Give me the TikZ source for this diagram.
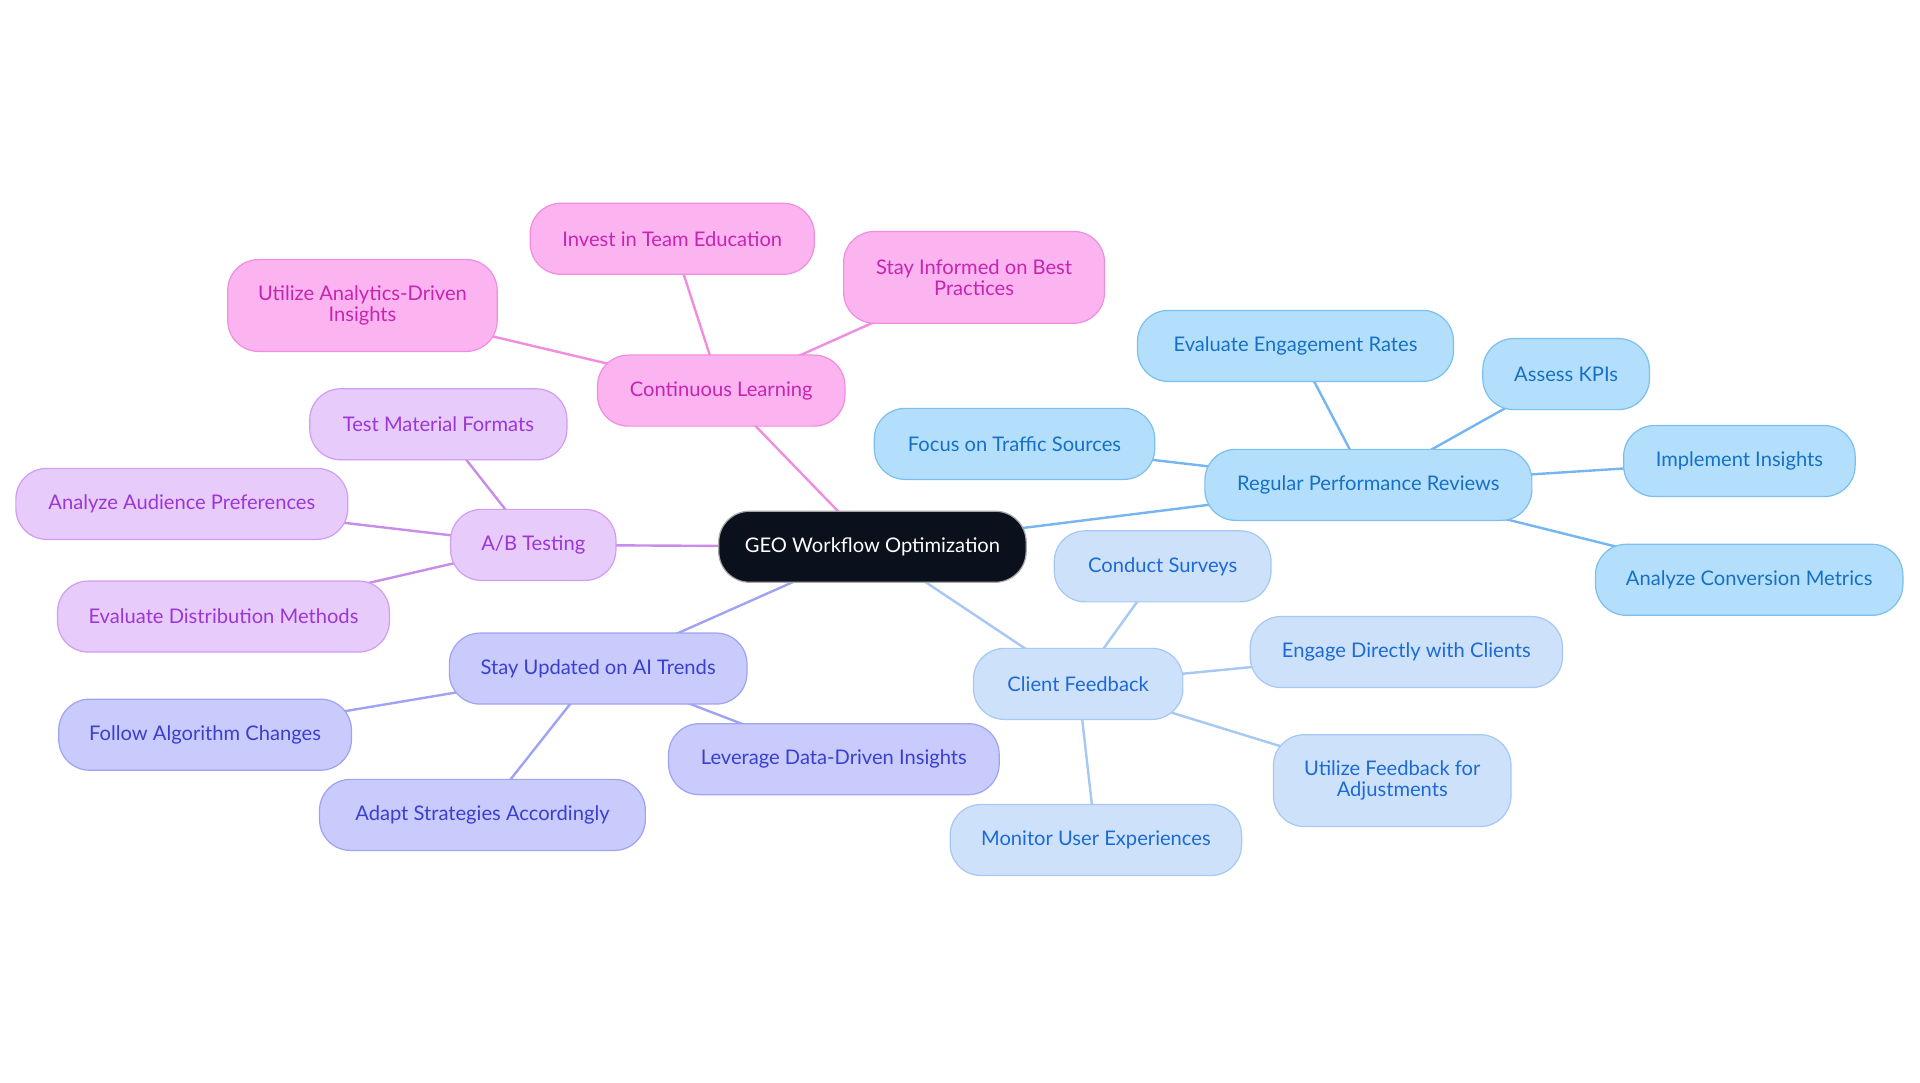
\documentclass[tikz,border=0pt]{standalone}
\usepackage{fontspec}
\setmainfont{Lato}
\usepackage{tikz}
\usetikzlibrary{backgrounds}

\definecolor{hubC}{HTML}{0B111C}
\definecolor{learnF}{HTML}{FBB4F0}
\definecolor{learnD}{HTML}{F08DDF}
\definecolor{learnT}{HTML}{C724B1}
\definecolor{abF}{HTML}{E7CBFB}
\definecolor{abD}{HTML}{D09DF5}
\definecolor{abT}{HTML}{9C36D6}
\definecolor{trendF}{HTML}{C8CBFB}
\definecolor{trendD}{HTML}{9FA3F3}
\definecolor{trendT}{HTML}{3B3FD0}
\definecolor{fbF}{HTML}{CDE2FA}
\definecolor{fbD}{HTML}{A6C8F2}
\definecolor{fbT}{HTML}{1C6AD4}
\definecolor{revF}{HTML}{B4DFFC}
\definecolor{revD}{HTML}{7BBFF0}
\definecolor{revT}{HTML}{1670C4}

\begin{document}
\begin{tikzpicture}[
            x=0.025cm, y=-0.025cm,
            pill/.style={
                    rectangle, rounded corners=0.63cm,
                    minimum height=1.45cm, inner sep=2pt,
                    align=center, line width=0.7pt,
                    font=\fontsize{11.7}{12.4}\selectfont
                },
            tall/.style={minimum height=1.875cm},
            hub/.style={pill, fill=hubC, draw=gray!70, text=white},
            learnbox/.style={pill, fill=learnF, draw=learnD, text=learnT},
            abbox/.style={pill, fill=abF, draw=abD, text=abT},
            trendbox/.style={pill, fill=trendF, draw=trendD, text=trendT},
            fbbox/.style={pill, fill=fbF, draw=fbD, text=fbT},
            revbox/.style={pill, fill=revF, draw=revD, text=revT},
            link/.style={line width=1.4pt},
            learnlink/.style={link, draw=learnD},
            ablink/.style={link, draw=abD!90!violet},
            trendlink/.style={link, draw=trendD},
            fblink/.style={link, draw=fbD},
            revlink/.style={link, draw=revD!95!blue}
        ]
        \useasboundingbox (0,0) rectangle (1568,884.4);

        \node[hub, minimum width=6.275cm] (geo) at (712.5,446.5) {GEO Workflow Optimization};

        % continuous learning
        \node[learnbox, minimum width=5.05cm] (learn) at (589,319) {Continuous Learning};
        \node[learnbox, minimum width=5.8cm] (educ) at (549,195) {Invest in Team Education};
        \node[learnbox, tall, minimum width=5.325cm] (best) at (795.5,226.5) {Stay Informed on Best\\Practices};
        \node[learnbox, tall, minimum width=5.5cm] (analy) at (296,249.5) {Utilize Analytics-Driven\\Insights};

        % a/b testing
        \node[abbox, minimum width=3.375cm] (ab) at (435.5,445) {A/B Testing};
        \node[abbox, minimum width=5.25cm] (format) at (358,346.5) {Test Material Formats};
        \node[abbox, minimum width=6.775cm] (audience) at (148.5,411.5) {Analyze Audience Preferences};
        \node[abbox, minimum width=6.775cm] (distrib) at (182.5,503.5) {Evaluate Distribution Methods};

        % ai trends
        \node[trendbox, minimum width=6.075cm] (trend) at (488.5,546) {Stay Updated on AI Trends};
        \node[trendbox, minimum width=5.975cm] (algo) at (167.5,600) {Follow Algorithm Changes};
        \node[trendbox, minimum width=6.75cm] (datadr) at (681,620) {Leverage Data-Driven Insights};
        \node[trendbox, minimum width=6.65cm] (adapt) at (394,665.5) {Adapt Strategies Accordingly};

        % client feedback
        \node[fbbox, minimum width=4.275cm] (fb) at (880.5,558.5) {Client Feedback};
        \node[fbbox, minimum width=4.425cm] (survey) at (949.5,462.5) {Conduct Surveys};
        \node[fbbox, minimum width=6.375cm] (engage) at (1148.5,532.5) {Engage Directly with Clients};
        \node[fbbox, tall, minimum width=4.85cm] (adjust) at (1137,637.5) {Utilize Feedback for\\Adjustments};
        \node[fbbox, minimum width=5.95cm] (monitor) at (895,686) {Monitor User Experiences};

        % performance reviews
        \node[revbox, minimum width=6.675cm] (review) at (1117.5,396) {Regular Performance Reviews};
        \node[revbox, minimum width=5.725cm] (traffic) at (828.5,362.5) {Focus on Traffic Sources};
        \node[revbox, minimum width=6.45cm] (engrate) at (1058,282.5) {Evaluate Engagement Rates};
        \node[revbox, minimum width=3.4cm] (kpi) at (1279,305.5) {Assess KPIs};
        \node[revbox, minimum width=4.725cm] (implem) at (1420.5,376.5) {Implement Insights};
        \node[revbox, minimum width=6.275cm] (convers) at (1428.5,473.5) {Analyze Conversion Metrics};

        \begin{scope}[on background layer]
            \draw[learnlink] (geo.center) -- (learn.center);
            \draw[learnlink] (learn.center) -- (educ.center);
            \draw[learnlink] (learn.center) -- (best.center);
            \draw[learnlink] (learn.center) -- (analy.center);

            \draw[ablink] (geo.center) -- (ab.center);
            \draw[ablink] (ab.center) -- (format.center);
            \draw[ablink] (ab.center) -- (audience.center);
            \draw[ablink] (ab.center) -- (distrib.center);

            \draw[trendlink] (geo.center) -- (trend.center);
            \draw[trendlink] (trend.center) -- (algo.center);
            \draw[trendlink] (trend.center) -- (datadr.center);
            \draw[trendlink] (trend.center) -- (adapt.center);

            \draw[fblink] (geo.center) -- (fb.center);
            \draw[fblink] (fb.center) -- (survey.center);
            \draw[fblink] (fb.center) -- (engage.center);
            \draw[fblink] (fb.center) -- (adjust.center);
            \draw[fblink] (fb.center) -- (monitor.center);

            \draw[revlink] (geo.center) -- (review.center);
            \draw[revlink] (review.center) -- (traffic.center);
            \draw[revlink] (review.center) -- (engrate.center);
            \draw[revlink] (review.center) -- (kpi.center);
            \draw[revlink] (review.center) -- (implem.center);
            \draw[revlink] (review.center) -- (convers.center);
        \end{scope}
    \end{tikzpicture}
\end{document}
